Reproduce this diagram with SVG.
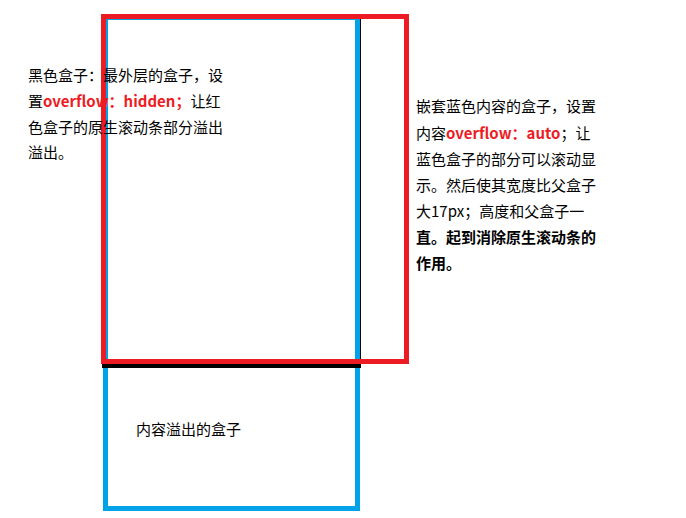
<svg xmlns="http://www.w3.org/2000/svg" width="686" height="518" viewBox="0 0 686 518">
<style>
text{font-family:"Noto Sans CJK SC","Microsoft YaHei",sans-serif;font-size:15px;fill:#000}
.r{fill:#ED1C24;font-weight:bold}
.b{font-weight:bold}
</style>
<rect width="686" height="518" fill="#fff"/>
<g id="blue-box">
<rect x="105.5" y="17.5" width="252" height="491" fill="none" stroke="#00A2E8" stroke-width="5"/>
</g>
<g id="black-box">
<rect x="102" y="364" width="259" height="4" fill="#000"/>
<rect x="360" y="14" width="1" height="354" fill="#000"/>
</g>
<g id="red-box">
<rect x="103.5" y="16.5" width="303" height="345" fill="none" stroke="#ED1C24" stroke-width="5"/>
</g>
<g id="left-note">
<text x="28" y="81">黑色盒子：最外层的盒子，设</text>
<text x="28" y="107">置<tspan class="r">overflow：hidden；</tspan>让红</text>
<text x="28" y="133">色盒子的原生滚动条部分溢出</text>
<text x="28" y="158">溢出。</text>
</g>
<g id="right-note">
<text x="416" y="112">嵌套蓝色内容的盒子，设置</text>
<text x="416" y="139">内容<tspan class="r">overflow：auto</tspan>；让</text>
<text x="416" y="165">蓝色盒子的部分可以滚动显</text>
<text x="416" y="191">示。然后使其宽度比父盒子</text>
<text x="416" y="217">大17px；高度和父盒子一</text>
<text x="416" y="243" class="b">直。起到消除原生滚动条的</text>
<text x="416" y="269" class="b">作用。</text>
</g>
<g id="bottom-label">
<text x="136" y="435">内容溢出的盒子</text>
</g>
<g id="connectors"/>
</svg>
